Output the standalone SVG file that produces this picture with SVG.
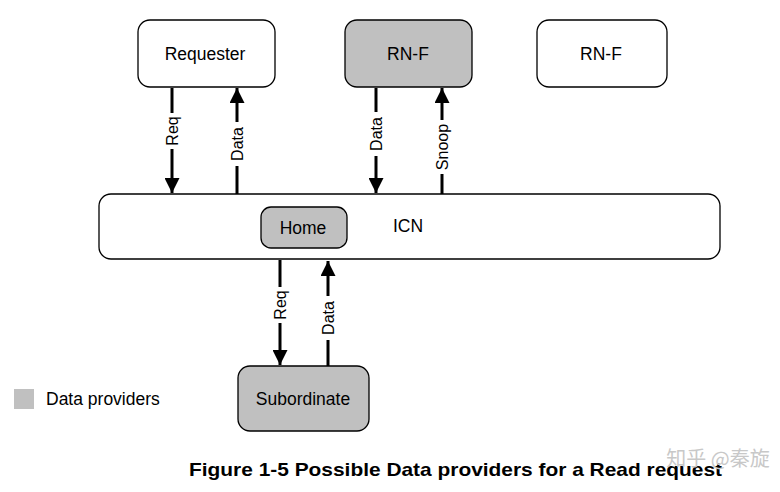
<svg xmlns="http://www.w3.org/2000/svg" width="780" height="492" viewBox="0 0 780 492">
<style>
.b{stroke:#000;stroke-width:1.3}
.w{fill:#fff}.g{fill:#c0c0c0}
.t{font-family:"Liberation Sans",Arial,sans-serif;font-size:17.5px;fill:#000;text-anchor:middle;dominant-baseline:central}
.l{font-family:"Liberation Sans",Arial,sans-serif;font-size:16px;fill:#000;text-anchor:middle;dominant-baseline:central}
.a{stroke:#000;stroke-width:3;fill:none}
</style>
<defs><marker id="ah" viewBox="0 0 10 10" refX="10" refY="5" markerWidth="5" markerHeight="5" orient="auto" markerUnits="strokeWidth"><path d="M0,0L10,5L0,10z" fill="#000"/></marker></defs>
<rect width="780" height="492" fill="#fff"/>
<g id="requester"><rect class="b w" x="138" y="20" width="137" height="67" rx="12"/><text class="t" x="205" y="54">Requester</text></g>
<g id="rnf1"><rect class="b g" x="345" y="20" width="127" height="67" rx="12"/><text class="t" x="408" y="54">RN-F</text></g>
<g id="rnf2"><rect class="b w" x="537" y="20" width="130" height="67" rx="12"/><text class="t" x="601" y="54">RN-F</text></g>
<g id="icn"><rect class="b w" x="99" y="194" width="621" height="65" rx="12"/><text class="t" x="408" y="226">ICN</text></g>
<g id="home"><rect class="b g" x="261" y="207" width="86" height="41" rx="10"/><text class="t" x="303" y="228">Home</text></g>
<g id="subordinate"><rect class="b g" x="238" y="366" width="131" height="65" rx="12"/><text class="t" x="303" y="399">Subordinate</text></g>
<g id="legend"><rect x="14" y="389" width="20" height="20" fill="#c0c0c0"/><text class="t" x="46" y="399" style="text-anchor:start">Data providers</text></g>
<g id="connectors">
<line class="a" x1="172" y1="88" x2="172" y2="193" marker-end="url(#ah)"/>
<line class="a" x1="237" y1="194" x2="237" y2="88" marker-end="url(#ah)"/>
<line class="a" x1="376" y1="88" x2="376" y2="193" marker-end="url(#ah)"/>
<line class="a" x1="442" y1="194" x2="442" y2="88" marker-end="url(#ah)"/>
<line class="a" x1="280" y1="260" x2="280" y2="365" marker-end="url(#ah)"/>
<line class="a" x1="328" y1="366" x2="328" y2="261" marker-end="url(#ah)"/>
<rect x="163" y="113" width="18" height="36" fill="#fff"/><text class="l" transform="translate(172,131) rotate(-90)">Req</text>
<rect x="228" y="122" width="18" height="44" fill="#fff"/><text class="l" transform="translate(237,144) rotate(-90)">Data</text>
<rect x="367" y="112" width="18" height="44" fill="#fff"/><text class="l" transform="translate(376,134) rotate(-90)">Data</text>
<rect x="433" y="120" width="18" height="54" fill="#fff"/><text class="l" transform="translate(442,147) rotate(-90)">Snoop</text>
<rect x="271" y="287" width="18" height="36" fill="#fff"/><text class="l" transform="translate(280,305) rotate(-90)">Req</text>
<rect x="319" y="296" width="18" height="44" fill="#fff"/><text class="l" transform="translate(328,318) rotate(-90)">Data</text>
</g>
<text x="189" y="476" textLength="533" lengthAdjust="spacingAndGlyphs" style="font-family:'Liberation Sans',Arial,sans-serif;font-size:19px;font-weight:bold">Figure 1-5 Possible Data providers for a Read request</text>
<text x="718" y="466" style="font-family:'Noto Sans CJK SC',sans-serif;font-size:20px;fill:#c8c8c8" text-anchor="middle">知乎 @秦旋</text>
</svg>
